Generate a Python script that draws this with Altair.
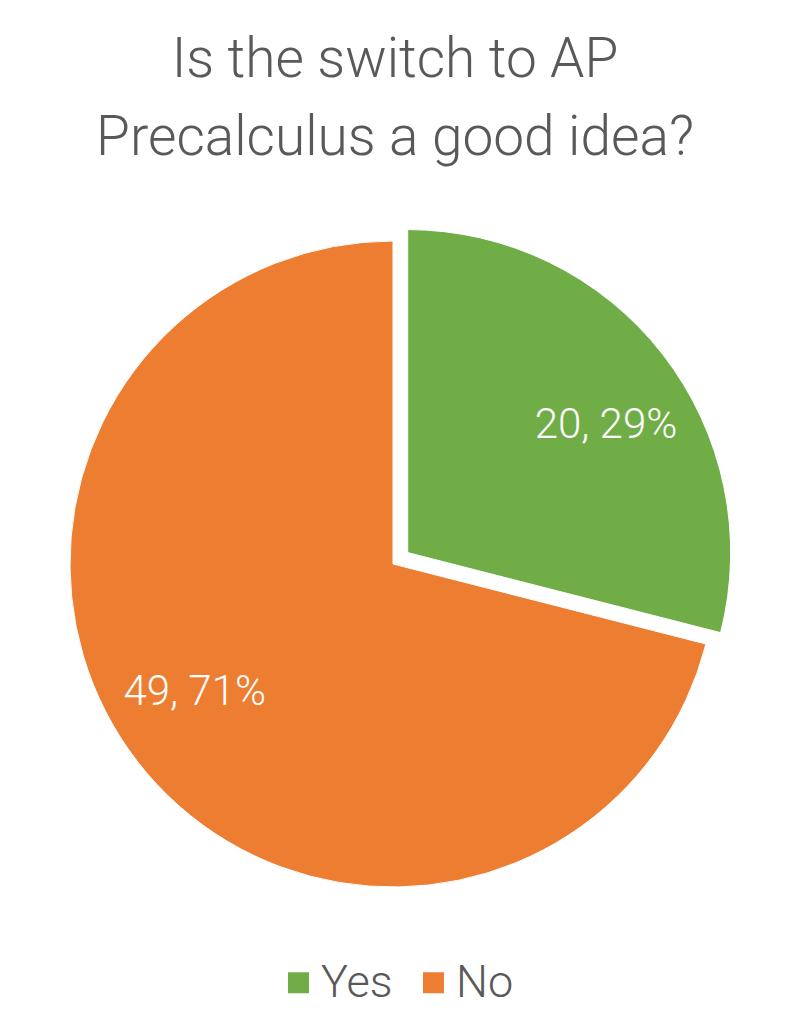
import altair as alt
import pandas as pd

categories = ["Yes", "No"]
counts = [20, 49]
colors = ["#70AD47", "#ED7D31"]
title_lines = ["Is the switch to AP", "Precalculus a good idea?"]

df = pd.DataFrame({"category": categories, "count": counts})

FONT = "Roboto"
GRAY = "#595959"
R = 323
CX, CY = 385, 366
EXPLODE = 18.6

base = (
    alt.Chart(df)
    .transform_joinaggregate(total="sum(count)")
    .transform_window(cum="sum(count)", frame=[None, 0])
    .transform_calculate(
        start="(datum.cum - datum.count) / datum.total * 2 * PI",
        end="datum.cum / datum.total * 2 * PI",
    )
    .transform_calculate(
        mid="(datum.start + datum.end) / 2",
        pct="round(datum.count / datum.total * 100)",
    )
    .transform_calculate(
        ex=f"datum.category == 'Yes' ? {EXPLODE} : 0",
        label="datum.count + ', ' + datum.pct + '%'",
        lab_theta="datum.mid + 0.087",
    )
    .transform_calculate(
        cx=f"{CX} + datum.ex * sin(datum.mid)",
        cy=f"{CY} - datum.ex * cos(datum.mid)",
    )
)

arcs = base.mark_arc(outerRadius=R, stroke="white", strokeWidth=1).encode(
    theta=alt.Theta("start:Q", scale=None),
    theta2="end:Q",
    x=alt.X("cx:Q", scale=None),
    y=alt.Y("cy:Q", scale=None),
    color=alt.Color(
        "category:N",
        scale=alt.Scale(domain=categories, range=colors),
        sort=categories,
        legend=alt.Legend(
            title=None,
            orient="none",
            direction="horizontal",
            legendX=268,
            legendY=762,
            padding=0,
            symbolType="square",
            symbolSize=441,
            symbolStrokeWidth=0,
            labelFont=FONT,
            labelFontSize=45,
            labelFontWeight=300,
            labelColor=GRAY,
            labelOffset=0,
            columnPadding=18,
        ),
    ),
)

labels = base.mark_text(
    font=FONT, fontSize=42, fontWeight=300, color="white", align="center", baseline="middle"
).encode(
    theta=alt.Theta("lab_theta:Q", scale=None),
    radius=alt.value(236),
    x=alt.X("cx:Q", scale=None),
    y=alt.Y("cy:Q", scale=None),
    text="label:N",
)

chart = (
    alt.layer(arcs, labels)
    .properties(
        width=796,
        height=821,
        padding={"top": 190, "left": 0, "right": 0, "bottom": 0},
        autosize=alt.AutoSizeParams(type="none"),
        title=alt.TitleParams(
            text=title_lines,
            font=FONT,
            fontSize=55,
            fontWeight=300,
            color=GRAY,
            anchor="middle",
            baseline="alphabetic",
            lineHeight=78,
            offset=43,
            dy=55,
            dx=-11,
        ),
    )
    .configure_view(strokeWidth=0)
)

chart.save("out.html", embed_options={"renderer": "svg", "actions": False})
